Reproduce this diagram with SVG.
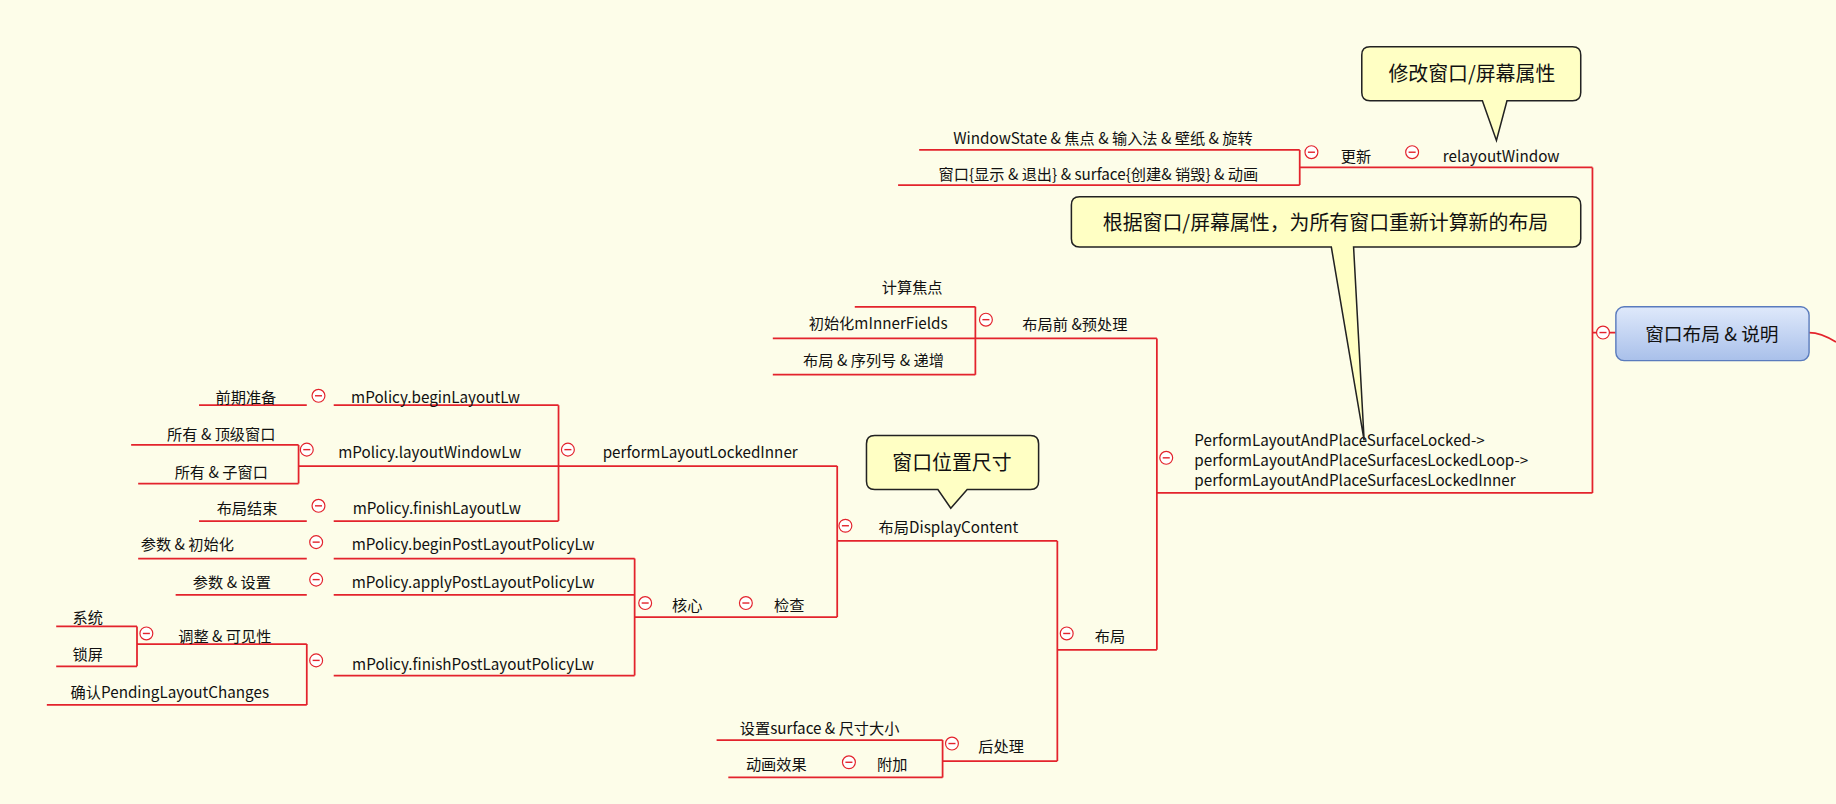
<svg xmlns="http://www.w3.org/2000/svg" width="1836" height="804" viewBox="0 0 1836 804">
<defs>
<style>
text{font-family:"Noto Sans CJK SC","Noto Sans",sans-serif;font-size:13px;fill:#111;text-anchor:middle}
.l{fill:none;stroke:#e3232c;stroke-width:1.5}
.m circle{fill:#fff;stroke:#e3232c;stroke-width:1}
.c{fill:#ffffc4;stroke:#222;stroke-width:1.3}
.ct{font-size:17px}
</style>
<linearGradient id="g" x1="0" y1="0" x2="0" y2="1"><stop offset="0" stop-color="#dfe9fb"/><stop offset="1" stop-color="#a9c0ea"/></linearGradient>
<symbol id="mi" viewBox="-7 -7 14 14" overflow="visible"><circle r="5.5" fill="#fff" stroke="#e3232c"/><line x1="-3" x2="3" stroke="#e3232c" stroke-width="1.2"/></symbol>
</defs>
<rect width="1836" height="804" fill="#fdfde9"/>
<g transform="scale(1.17092)">
<g id="connectors">
<path class="l" d="M1545 284 Q1555 284 1568 292"/>
<path class="l" d="M1380 284 H1360 M1360 143 V421 M1195 143 H1360 M1110 143 H1195 M1110 128 V158 M785 128 H1110 M767 158 H1110"/>
<path class="l" d="M988 421 H1360 M988 289 V555 M833 289 H988 M833 262 V320 M730 262 H833 M660 289 H833 M660 320 H833"/>
<path class="l" d="M903 555 H988 M903 462 V650 M715 462 H903 M715 398 V527 M477 398 H715 M477 346 V445 M285 346 H477 M170 346 H262 M255 398 H477 M255 380 V413 M112 380 H255 M118 413 H255 M285 445 H477 M170 445 H262"/>
<path class="l" d="M630 527 H715 M542 527 H630 M542 477 V577 M285 477 H542 M118 477 H262 M285 508 H542 M150 508 H262 M285 577 H542 M262 550 V602 M117 550 H262 M117 535 V569 M48 535 H117 M48 569 H117 M40 602 H262"/>
<path class="l" d="M805 650 H903 M805 632 V664 M612 632 H805 M710 664 H805 M622 664 H710"/>
</g>
<g id="minus">
<use href="#mi" x="1362" y="277" width="14" height="14"/>
<use href="#mi" x="1199" y="123" width="14" height="14"/>
<use href="#mi" x="1113" y="123" width="14" height="14"/>
<use href="#mi" x="989" y="384" width="14" height="14"/>
<use href="#mi" x="835" y="266" width="14" height="14"/>
<use href="#mi" x="904" y="534" width="14" height="14"/>
<use href="#mi" x="715" y="442" width="14" height="14"/>
<use href="#mi" x="478" y="377" width="14" height="14"/>
<use href="#mi" x="265" y="331" width="14" height="14"/>
<use href="#mi" x="255" y="377" width="14" height="14"/>
<use href="#mi" x="265" y="425" width="14" height="14"/>
<use href="#mi" x="630" y="508" width="14" height="14"/>
<use href="#mi" x="544" y="508" width="14" height="14"/>
<use href="#mi" x="263" y="456" width="14" height="14"/>
<use href="#mi" x="263" y="488" width="14" height="14"/>
<use href="#mi" x="263" y="557" width="14" height="14"/>
<use href="#mi" x="118" y="534" width="14" height="14"/>
<use href="#mi" x="806" y="628" width="14" height="14"/>
<use href="#mi" x="718" y="644" width="14" height="14"/>
</g>
<g id="root"><rect x="1380" y="262" width="165" height="46" rx="7" fill="url(#g)" stroke="#5a7bbd" stroke-width="1.2"/><text x="1462" y="291" style="font-size:16px">窗口布局 &amp; 说明</text></g>
<g id="n-relayout"><text x="1282" y="138">relayoutWindow</text></g>
<g id="n-update"><text x="1158" y="138">更新</text></g>
<g id="n-ws"><text x="942" y="123">WindowState &amp; 焦点 &amp; 输入法 &amp; 壁纸 &amp; 旋转</text></g>
<g id="n-win"><text x="938" y="154">窗口{显示 &amp; 退出} &amp; surface{创建&amp; 销毁} &amp; 动画</text></g>
<g id="n-perform"><text x="1020" y="381" style="text-anchor:start">PerformLayoutAndPlaceSurfaceLocked-&gt;</text><text x="1020" y="398" style="text-anchor:start">performLayoutAndPlaceSurfacesLockedLoop-&gt;</text><text x="1020" y="415" style="text-anchor:start">performLayoutAndPlaceSurfacesLockedInner</text></g>
<g id="n-pre"><text x="918" y="282">布局前 &amp;预处理</text></g>
<g id="n-focus"><text x="779" y="250">计算焦点</text></g>
<g id="n-inner"><text x="750" y="281">初始化mInnerFields</text></g>
<g id="n-seq"><text x="746" y="313">布局 &amp; 序列号 &amp; 递增</text></g>
<g id="n-layout"><text x="948" y="548">布局</text></g>
<g id="n-dc"><text x="810" y="455">布局DisplayContent</text></g>
<g id="n-pli"><text x="598" y="391">performLayoutLockedInner</text></g>
<g id="n-bl"><text x="372" y="344">mPolicy.beginLayoutLw</text></g>
<g id="n-prep"><text x="210" y="344">前期准备</text></g>
<g id="n-lw"><text x="367" y="391">mPolicy.layoutWindowLw</text></g>
<g id="n-top"><text x="189" y="376">所有 &amp; 顶级窗口</text></g>
<g id="n-child"><text x="189" y="408">所有 &amp; 子窗口</text></g>
<g id="n-fl"><text x="373" y="439">mPolicy.finishLayoutLw</text></g>
<g id="n-end"><text x="211" y="439">布局结束</text></g>
<g id="n-check"><text x="674" y="522">检查</text></g>
<g id="n-core"><text x="587" y="522">核心</text></g>
<g id="n-bpl"><text x="404" y="470">mPolicy.beginPostLayoutPolicyLw</text></g>
<g id="n-pinit"><text x="160" y="470">参数 &amp; 初始化</text></g>
<g id="n-apl"><text x="404" y="502">mPolicy.applyPostLayoutPolicyLw</text></g>
<g id="n-pset"><text x="198" y="502">参数 &amp; 设置</text></g>
<g id="n-fpl"><text x="404" y="572">mPolicy.finishPostLayoutPolicyLw</text></g>
<g id="n-adj"><text x="192" y="548">调整 &amp; 可见性</text></g>
<g id="n-sys"><text x="75" y="532">系统</text></g>
<g id="n-lock"><text x="75" y="564">锁屏</text></g>
<g id="n-confirm"><text x="145" y="596">确认PendingLayoutChanges</text></g>
<g id="n-post"><text x="855" y="642">后处理</text></g>
<g id="n-surf"><text x="700" y="627">设置surface &amp; 尺寸大小</text></g>
<g id="n-add"><text x="762" y="658">附加</text></g>
<g id="n-anim"><text x="663" y="658">动画效果</text></g>
<g id="callout1"><path class="c" d="M1170 40 H1343 Q1350 40 1350 47 V79 Q1350 86 1343 86 H1287 L1278 120 L1266 86 H1170 Q1163 86 1163 79 V47 Q1163 40 1170 40 Z"/><text class="ct" x="1257" y="69">修改窗口/屏幕属性</text></g>
<g id="callout2"><path class="c" d="M922 168 H1343 Q1350 168 1350 175 V204 Q1350 211 1343 211 H1156 L1165 376 L1137 211 H922 Q915 211 915 204 V175 Q915 168 922 168 Z"/><text class="ct" x="1132" y="196">根据窗口/屏幕属性，为所有窗口重新计算新的布局</text></g>
<g id="callout3"><path class="c" d="M747 372 H880 Q887 372 887 379 V411 Q887 418 880 418 H826 L812 434 L801 418 H747 Q740 418 740 411 V379 Q740 372 747 372 Z"/><text class="ct" x="813" y="401">窗口位置尺寸</text></g>
</g>
</svg>
